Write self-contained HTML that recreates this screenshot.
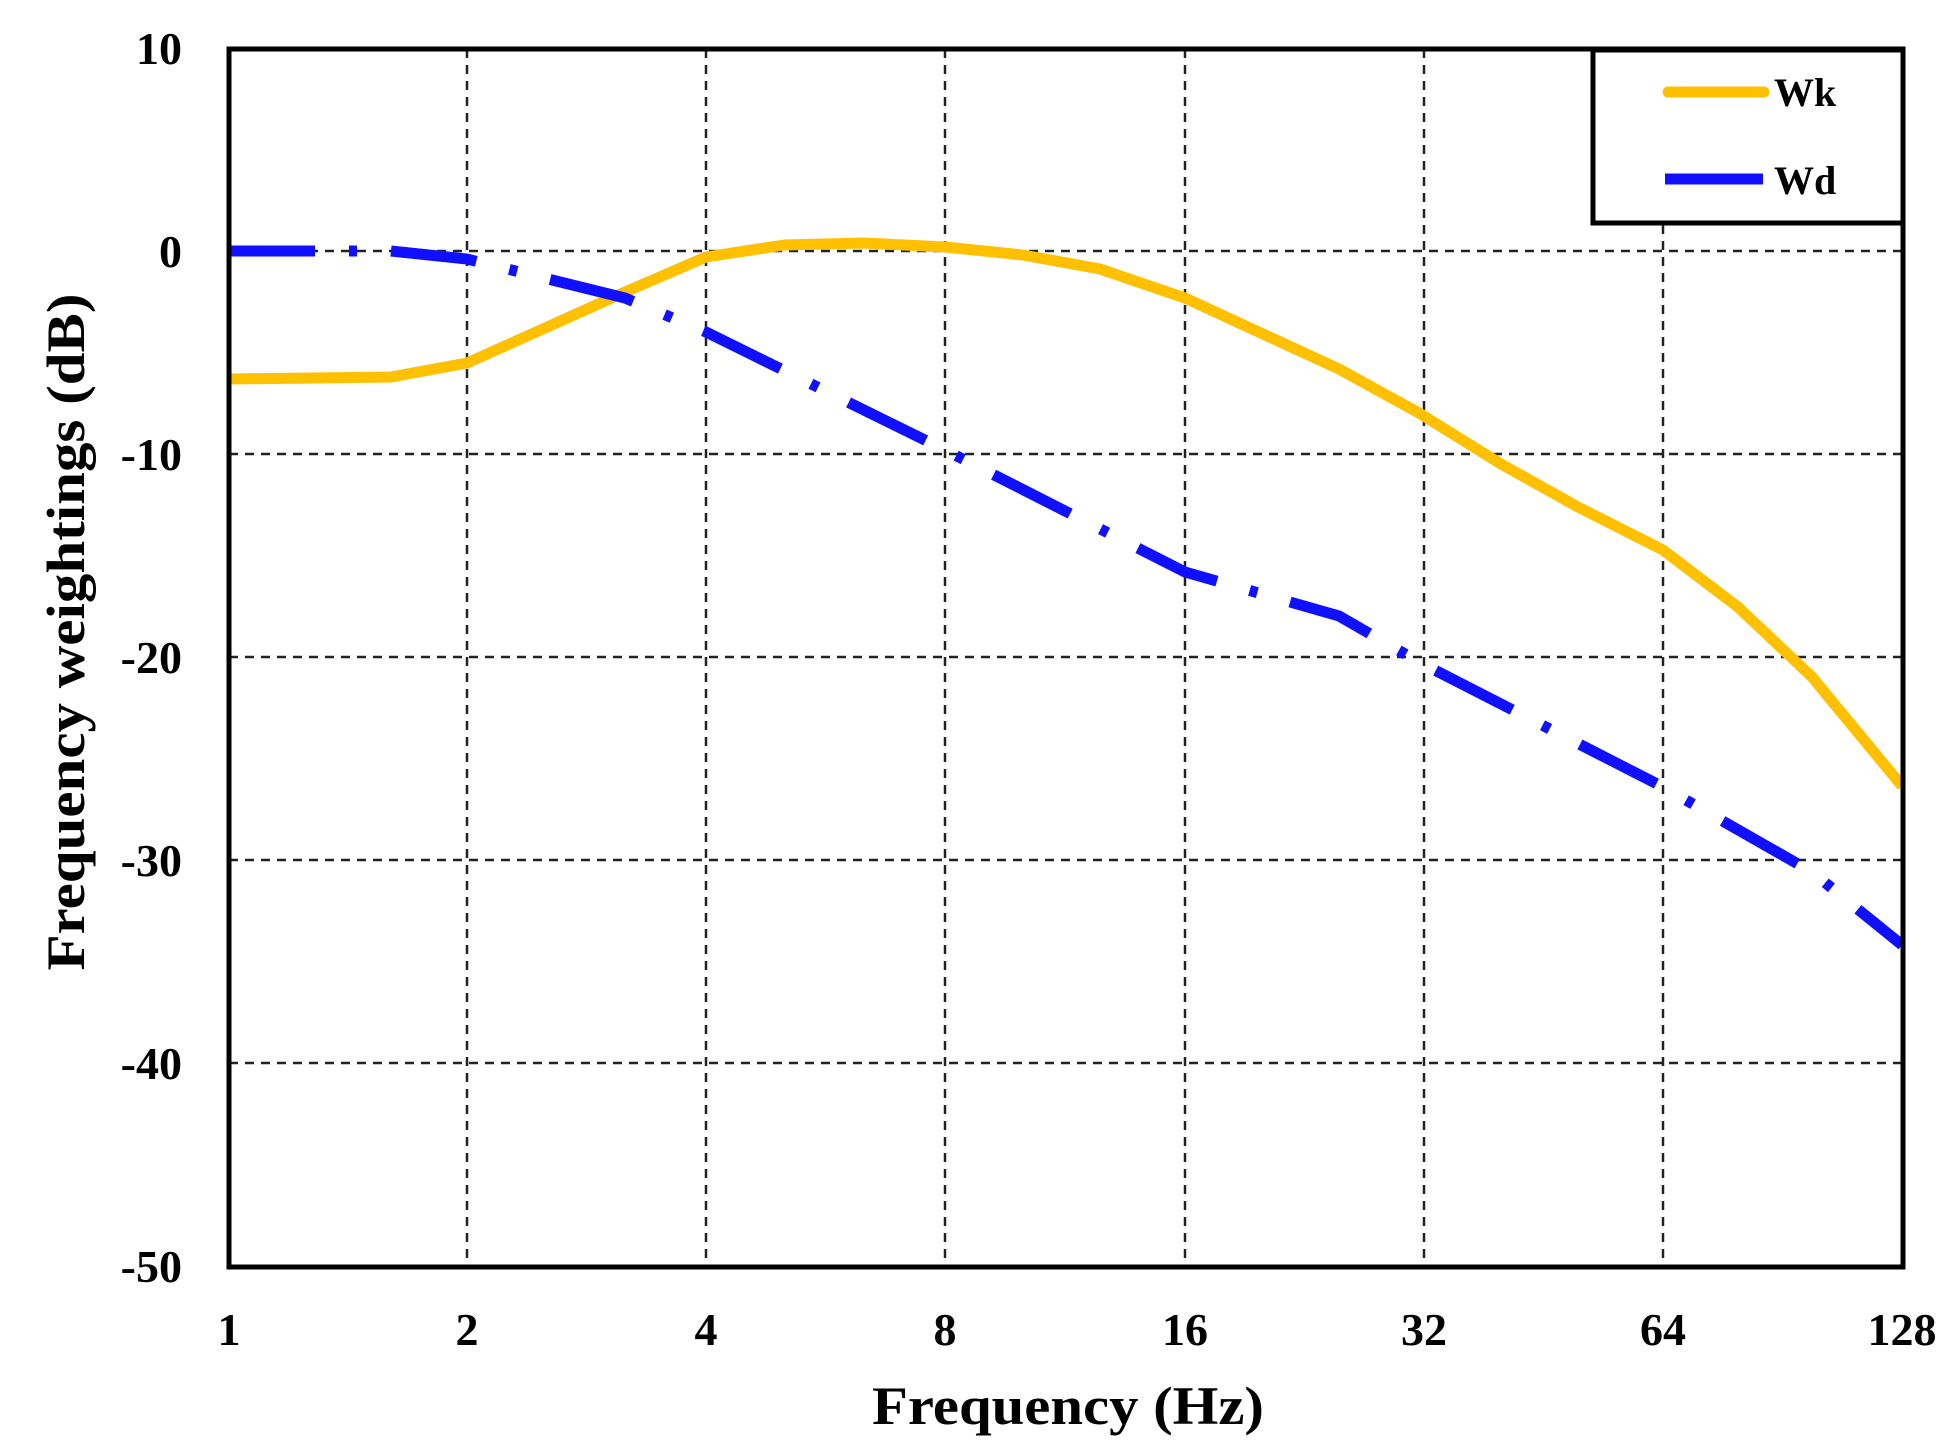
<!DOCTYPE html>
<html><head><meta charset="utf-8"><style>
html,body{margin:0;padding:0;background:#fff;}
svg{display:block;}
text{font-family:"Liberation Serif",serif;font-weight:bold;fill:#000;}
</style></head><body>
<svg width="1955" height="1456" viewBox="0 0 1955 1456" xmlns="http://www.w3.org/2000/svg">
<rect width="1955" height="1456" fill="#fff"/>
<g stroke="#222" stroke-width="2.5" stroke-dasharray="9,7" fill="none">
<line x1="229" y1="251" x2="1903" y2="251"/>
<line x1="229" y1="454" x2="1903" y2="454"/>
<line x1="229" y1="657" x2="1903" y2="657"/>
<line x1="229" y1="860" x2="1903" y2="860"/>
<line x1="229" y1="1063" x2="1903" y2="1063"/>
<line x1="467" y1="49" x2="467" y2="1267"/>
<line x1="706" y1="49" x2="706" y2="1267"/>
<line x1="945" y1="49" x2="945" y2="1267"/>
<line x1="1185" y1="49" x2="1185" y2="1267"/>
<line x1="1424" y1="49" x2="1424" y2="1267"/>
<line x1="1663" y1="49" x2="1663" y2="1267"/>
</g>
<polyline fill="none" stroke="#FFC000" stroke-width="11" stroke-linejoin="round"
points="229,379 391,377 467,363 545,328 625,292 706,257 784,245 864,243 945,247 1023,255 1100,269 1185,298 1339,369 1419,413 1501,464 1578,507 1663,550 1738,607 1812,677 1902,786"/>
<polyline fill="none" stroke="#1010FF" stroke-width="11" stroke-dasharray="86,34,8,34"
points="229,251 391,251 467,259 625,298 706,332 945,450 1185,572 1339,616 1419,662 1663,787 1812,872 1902,945"/>
<rect x="229" y="49" width="1674" height="1218" fill="none" stroke="#000" stroke-width="5"/>
<rect x="1593" y="50" width="310" height="173" fill="#fff" stroke="#000" stroke-width="5"/>
<line x1="1668" y1="92" x2="1764" y2="92" stroke="#FFC000" stroke-width="11" stroke-linecap="round"/>
<line x1="1665" y1="179" x2="1763" y2="179" stroke="#1010FF" stroke-width="11"/>
<text x="1774" y="106" font-size="40">Wk</text>
<text x="1774" y="194" font-size="40">Wd</text>
<g font-size="46" text-anchor="end">
<text x="182" y="64">10</text>
<text x="182" y="267">0</text>
<text x="182" y="470">-10</text>
<text x="182" y="673">-20</text>
<text x="182" y="876">-30</text>
<text x="182" y="1079">-40</text>
<text x="182" y="1282">-50</text>
</g>
<g font-size="46" text-anchor="middle">
<text x="229" y="1345">1</text>
<text x="467" y="1345">2</text>
<text x="706" y="1345">4</text>
<text x="945" y="1345">8</text>
<text x="1185" y="1345">16</text>
<text x="1424" y="1345">32</text>
<text x="1663" y="1345">64</text>
<text x="1902" y="1345">128</text>
</g>
<text x="1068" y="1424" font-size="54" text-anchor="middle" textLength="392" lengthAdjust="spacingAndGlyphs">Frequency (Hz)</text>
<text transform="translate(84,632) rotate(-90)" font-size="54" text-anchor="middle" textLength="677" lengthAdjust="spacingAndGlyphs">Frequency weightings (dB)</text>
</svg>
</body></html>
